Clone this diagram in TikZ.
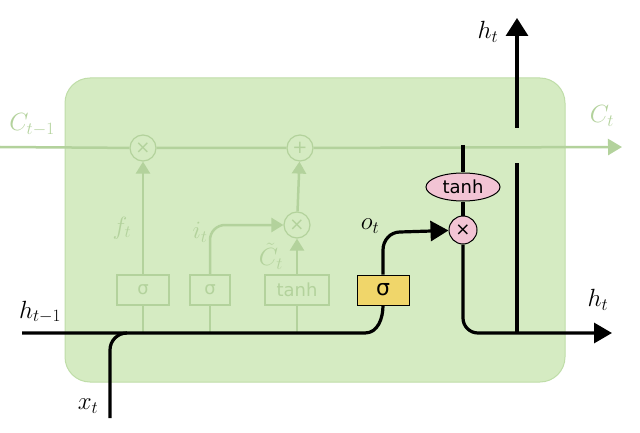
\documentclass[tikz,border=0pt]{standalone}
\usepackage{fontspec}
\setsansfont{DejaVu Sans}
\usetikzlibrary{arrows.meta,shapes.geometric}
\definecolor{bgg}{HTML}{D5EBC2}
\definecolor{bgb}{HTML}{BFDDA8}
\definecolor{fad}{HTML}{B3D29C}
\definecolor{pk}{HTML}{F2C4D4}
\definecolor{yl}{HTML}{F0D66A}
\begin{document}
\begin{tikzpicture}[x=1pt,y=-1pt,
  fline/.style={line width=2.5pt,draw=fad},
  bline/.style={line width=3.2pt,draw=black},
  fop/.style={circle,draw=fad,line width=1.2pt,minimum size=26pt,inner sep=0pt,text=fad,font=\sffamily\fontsize{18}{18}\selectfont},
  fbox/.style={rectangle,draw=fad,line width=1.2pt,minimum height=30pt,inner sep=2pt,text=fad,font=\sffamily\fontsize{18}{18}\selectfont},
  pop/.style={circle,draw=black,fill=pk,line width=1pt,minimum size=28pt,inner sep=0pt,font=\sffamily\fontsize{18}{18}\selectfont},
  flab/.style={text=fad,font=\fontsize{23}{23}\selectfont},
  blab/.style={font=\fontsize{23}{23}\selectfont}]
\useasboundingbox (0,0) rectangle (640,433);
\fill[white] (0,0) rectangle (640,433);
\draw[fill=bgg,draw=bgb,line width=1pt,rounded corners=25pt] (65,78) rectangle (565,382);
% faded cell line
\coordinate (cs) at (0,147);
\coordinate (ce) at (622,147);
\node[fop] (m1) at (143,148) {×};
\node[fop] (a1) at (300,148) {+};
\node[fop] (m2) at (297,225) {×};
\draw[fline] (cs) -- (m1) -- (a1);
\draw[fline,-{Triangle[length=14pt,width=16pt]}] (a1) -- (ce);
\node[flab] (cl) at (32,125) {$C_{t-1}$};
\node[flab] (cr) at (602,116) {$C_t$};
\node[fbox,minimum width=52pt] (s1) at (143,290) {σ};
\node[fbox,minimum width=40pt] (s2) at (210,290) {σ};
\node[fbox,minimum width=64pt] (th) at (297,290) {tanh};
\draw[fline,-{Triangle[length=12pt,width=14pt]}] (s1) -- (m1);
\draw[fline,-{Triangle[length=12pt,width=14pt]}] (s2.north) -- (210,240) to[out=90,in=180] (225,225) -- (m2);
\draw[fline,-{Triangle[length=12pt,width=14pt]}] (th) -- (m2);
\draw[fline,-{Triangle[length=12pt,width=14pt]}] (m2) -- (a1);
\draw[fline] (s1.south) -- (143,333);
\draw[fline] (s2.south) -- (210,333);
\draw[fline] (th.south) -- (297,333);
\node[flab] (ft) at (122,228) {$f_t$};
\node[flab] (it) at (200,232) {$i_t$};
\node[flab] (ct) at (271,256) {$\tilde{C}_t$};
% output gate
\node[rectangle,draw=black,fill=yl,line width=1pt,minimum width=52pt,minimum height=30pt,font=\sffamily\fontsize{22}{22}\selectfont] (so) at (383,290) {σ};
\node[ellipse,draw=black,fill=pk,line width=1pt,minimum width=74pt,minimum height=28pt,inner sep=0pt,font=\sffamily\fontsize{18}{18}\selectfont] (tn) at (463,187) {tanh};
\node[pop] (mo) at (463,230) {×};
\coordinate (hin) at (22,333);
\coordinate (xin) at (110,418);
\coordinate (ctop) at (463,145);
\coordinate (hout) at (612,333);
\coordinate (htop) at (517,18);
\draw[bline] (hin) -- (365,333) to[out=0,in=-90] (so.south);
\draw[bline] (xin) -- (110,350) to[out=90,in=180] (127,333);
\draw[bline,-{Triangle[length=18pt,width=20pt]}] (so.north) -- (383,250) to[out=90,in=180] (400,232) -- (mo);
\draw[bline] (ctop) -- (tn);
\draw[bline] (tn) -- (mo);
\draw[bline,-{Triangle[length=18pt,width=20pt]}] (mo) -- (463,318) to[out=-90,in=180] (478,333) -- (hout);
\draw[bline] (517,333) -- (517,163);
\draw[bline,-{Triangle[length=18pt,width=22pt]}] (517,128) -- (htop);
\node[blab] (ot) at (370,226) {$o_t$};
\node[blab] (hl) at (40,312) {$h_{t-1}$};
\node[blab] (xl) at (88,406) {$x_t$};
\node[blab] (hr) at (598,300) {$h_t$};
\node[blab] (ht) at (488,32) {$h_t$};
\end{tikzpicture}
\end{document}
